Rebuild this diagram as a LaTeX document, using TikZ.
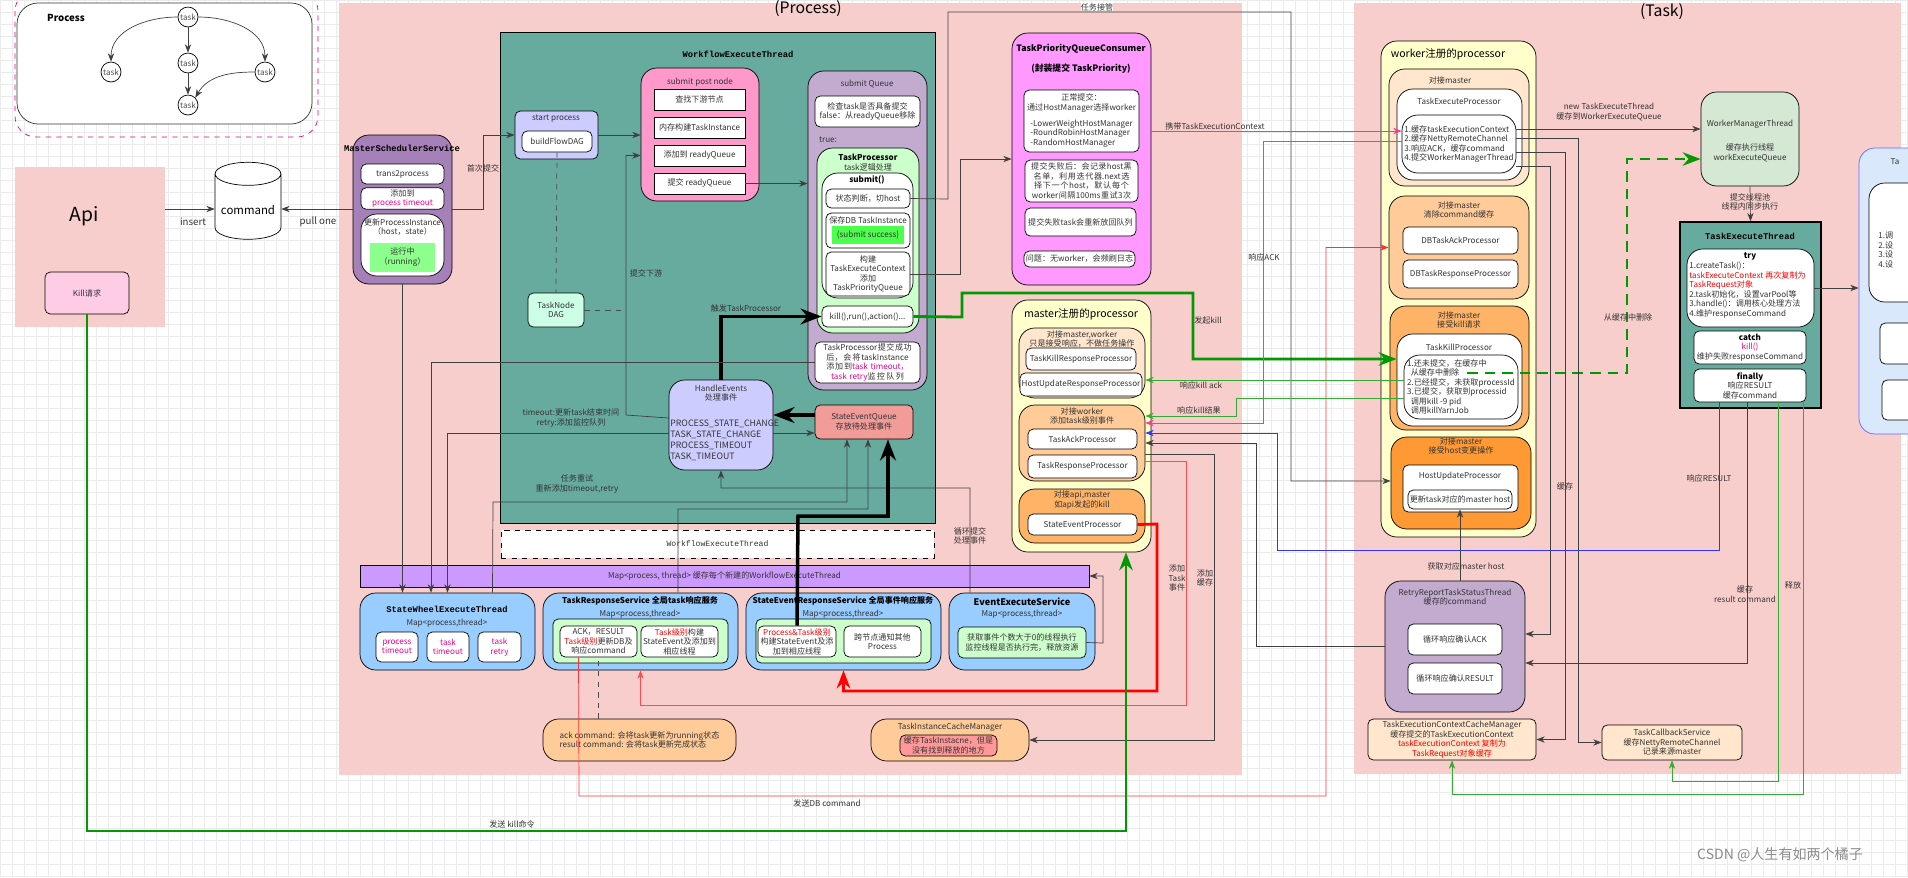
\documentclass[tikz,border=0pt]{standalone}
\usepackage{fontspec}
\setmainfont{Noto Sans CJK SC}
\newfontfamily\mono{Liberation Mono}
\XeTeXlinebreaklocale "zh"
\XeTeXlinebreakskip=0pt plus 1pt
\usetikzlibrary{shapes.geometric,arrows.meta}

\definecolor{bgpink}{HTML}{F8CECC}
\definecolor{wteal}{HTML}{67AB9F}
\definecolor{lav}{HTML}{CCCCFF}
\definecolor{rose}{HTML}{FF99CC}
\definecolor{lilac}{HTML}{C3ABD0}
\definecolor{mint}{HTML}{CCFFCC}
\definecolor{aqua}{HTML}{CCFFE6}
\definecolor{salmon}{HTML}{F19C99}
\definecolor{mapviolet}{HTML}{CC99FF}
\definecolor{sky}{HTML}{99CCFF}
\definecolor{peach}{HTML}{FFCC99}
\definecolor{cream}{HTML}{FFE6CC}
\definecolor{orng}{HTML}{FFB366}
\definecolor{dorng}{HTML}{FF9933}
\definecolor{lemon}{HTML}{FFFFCC}
\definecolor{magbox}{HTML}{FF99FF}
\definecolor{sage}{HTML}{D5E8D4}
\definecolor{msscol}{HTML}{A680B8}
\definecolor{killbg}{HTML}{FFCCE6}
\definecolor{hotpink}{HTML}{FF3399}
\definecolor{lgreen}{HTML}{33AA33}
\definecolor{kgreen}{HTML}{009900}
\definecolor{ice}{HTML}{DAE8FC}

\newcommand{\fs}{\fontsize{4.6}{5.4}\selectfont}
\newcommand{\rtxt}[1]{\textcolor{red}{#1}}
\newcommand{\mtxt}[1]{\textcolor{magenta}{#1}}
% box from corners: style, name, x1, y1, x2, y2, text
\newcommand{\bx}[7]{\node[box,#1,minimum width={(#5-#3)*0.02cm},minimum height={(#6-#4)*0.02cm}] (#2) at ({(#3+#5)/2},{(#4+#6)/2}) {#7};}

\tikzset{
  box/.style={draw, rectangle, fill=white, inner sep=1pt, align=center, font=\fs, text=black!80},
  rnd/.style={rounded corners=3pt},
  rbig/.style={rounded corners=9pt},
  lbl/.style={font=\fs, text=black!80, align=center, inner sep=0pt},
  ttl/.style={font=\mono\bfseries\fontsize{5}{6}\selectfont, inner sep=0pt},
  wire/.style={->, >=Stealth, black!75, line width=0.4pt},
}

\begin{document}
\begin{tikzpicture}[x=0.02cm, y=-0.02cm]
  \clip (0,0) rectangle (1908,877);
  \fill[white] (0,0) rectangle (1908,877);
  \draw[black!8, step=0.24cm] (0,-877) grid (1908,877);

  % areas
  \fill[bgpink] (339,3) rectangle (1242,775);
  \fill[bgpink] (1354,3) rectangle (1901,774);
  \node[font=\fontsize{9}{10}\selectfont] (procT) at (808,9) {(Process)};
  \node[font=\fontsize{9}{10}\selectfont] (taskT) at (1662,12) {(Task)};

  % process DAG
  \draw[magenta, dashed, rounded corners=12pt] (15,-10) rectangle (318,137);
  \draw[black!80, fill=white, rounded corners=12pt] (17,3) rectangle (312,124);
  \node[font=\bfseries\fontsize{5.5}{6}\selectfont] (dagT) at (66,18) {Process};
  \foreach \n/\x/\y in {t1/188/17, t2/188/63, t3/111/72, t4/265/72, t5/188/105}
    \node[draw, circle, fill=white, minimum size=0.4cm, inner sep=0pt, font=\fs, text=black!70] (\n) at (\x,\y) {task};
  \draw[wire] (t1) -- (t2);
  \draw[wire] (t2) -- (t5);
  \draw[wire] (t1.west) to[out=180, in=90] (t3.north);
  \draw[wire] (t1.east) to[out=0, in=90] (t4.north);
  \draw[wire] (t4.west) to[out=180, in=60] (t5.north east);

  % api side
  \bx{draw=none, fill=bgpink}{apiB}{15}{167}{165}{327}{}
  \node[font=\fontsize{11}{12}\selectfont] (api) at (84,216) {Api};
  \bx{rnd, fill=killbg}{kill}{45}{272}{129}{314}{Kill请求}
  \node[draw, cylinder, shape border rotate=90, aspect=0.35, fill=white, minimum width=1.12cm, minimum height=1.54cm, font=\fontsize{6.5}{7}\selectfont] (cmd) at (248,210) {command};
  \node[lbl, font=\fontsize{5.5}{6}\selectfont] (insL) at (193,222) {insert};
  \node[lbl, font=\fontsize{5.5}{6}\selectfont] (pullL) at (318,222) {pull one};

  % MasterSchedulerService
  \bx{rbig, fill=msscol}{ms}{353}{135}{452}{284}{}
  \node[ttl] (msT) at (402,148) {MasterSchedulerService};
  \bx{rnd}{m1}{361}{164}{444}{184}{trans2process}
  \bx{rnd}{m2}{361}{189}{444}{208}{添加到\\\mtxt{process timeout}}
  \bx{rbig}{m3}{361}{214}{444}{276}{更新ProcessInstance\\（host，state）\\[3pt]\colorbox{green!45}{\parbox{1.1cm}{\centering 运行中\\（running）}}}

  % WorkflowExecuteThread
  \bx{fill=wteal}{wet}{500}{32}{935}{523}{}
  \node[ttl] (wetT) at (738,54) {WorkflowExecuteThread};
  \bx{rnd, fill=lav}{sp}{515}{111}{598}{159}{}
  \node[lbl] (spT) at (556,119) {start process};
  \bx{rnd}{bfd}{522}{131}{592}{152}{buildFlowDAG}
  \bx{rbig, fill=rose}{spn}{641}{68}{759}{201}{}
  \node[lbl] (spnT) at (700,82) {submit post node};
  \bx{}{a1}{654}{89}{745}{110}{查找下游节点}
  \bx{}{a2}{654}{117}{745}{138}{内存构建TaskInstance}
  \bx{}{a3}{654}{145}{745}{166}{添加到 readyQueue}
  \bx{}{a4}{654}{173}{745}{194}{提交 readyQueue}
  \bx{rbig, fill=lilac}{sq}{808}{71}{927}{390}{}
  \node[lbl] (sqT) at (867,84) {submit Queue};
  \bx{rnd}{q1}{815}{96}{920}{127}{检查task是否具备提交\\false：从readyQueue移除}
  \node[lbl] (trueL) at (828,140) {true:};
  \bx{rbig, fill=mint}{tp}{817}{148}{919}{333}{}
  \node[lbl, text=black, font=\bfseries\fs] (tpT) at (868,157) {TaskProcessor};
  \node[lbl] (tpS) at (868,167) {task逻辑处理};
  \bx{rbig}{sub}{822}{173}{913}{298}{}
  \node[lbl, text=black, font=\bfseries\fs] (subT) at (867,180) {submit()};
  \bx{rnd}{s1}{826}{189}{910}{208}{状态判断，切host}
  \bx{rnd}{s2}{826}{213}{910}{248}{保存DB TaskInstance\\\colorbox{green!70}{(submit success)}}
  \bx{rnd}{s3}{826}{252}{910}{296}{构建\\TaskExecuteContext\\添加\\TaskPriorityQueue}
  \bx{rnd}{kl}{822}{306}{913}{327}{kill(),run(),action()...}
  \bx{rnd, text width=1.95cm}{tps}{815}{342}{920}{383}{TaskProcessor提交成功后，会将taskInstance添加到\mtxt{task timeout，task retry}监控队列}
  \bx{rnd, fill=aqua}{dag}{528}{293}{584}{327}{TaskNode\\DAG}
  \bx{rbig, fill=lav}{he}{669}{380}{773}{470}{}
  \node[lbl] (heT) at (721,393) {HandleEvents\\处理事件};
  \node[lbl, anchor=west, align=left, font=\fontsize{5}{6.2}\selectfont] (heL) at (670,440) {PROCESS\_STATE\_CHANGE\\TASK\_STATE\_CHANGE\\PROCESS\_TIMEOUT\\TASK\_TIMEOUT};
  \bx{rnd, fill=salmon}{seq}{815}{405}{913}{439}{StateEventQueue\\存放待处理事件}
  \bx{dashed}{wetd}{501}{530}{934}{558}{\mono WorkflowExecuteThread}
  \bx{fill=mapviolet}{map}{360}{565}{1089}{587}{Map<process, thread> 缓存每个新建的WorkflowExecuteThread}

  % services
  \bx{rbig, fill=sky}{swt}{360}{593}{535}{670}{}
  \node[ttl] (swtT) at (447,609) {StateWheelExecuteThread};
  \node[lbl] (swtM) at (447,623) {Map<process,thread>};
  \bx{rnd}{w1}{376}{632}{418}{662}{\mtxt{process}\\\mtxt{timeout}}
  \bx{rnd}{w2}{427}{632}{469}{662}{\mtxt{task}\\\mtxt{timeout}}
  \bx{rnd}{w3}{478}{632}{521}{662}{\mtxt{task}\\\mtxt{retry}}
  \bx{rbig, fill=sky}{trs}{543}{593}{738}{670}{}
  \node[lbl, text=black, font=\bfseries\fs] (trsT) at (640,601) {TaskResponseService 全局task响应服务};
  \node[lbl] (trsM) at (640,614) {Map<process,thread>};
  \bx{rnd, fill=mint}{trsi}{553}{619}{728}{663}{}
  \bx{rnd}{r1}{560}{626}{637}{657}{ACK，RESULT\\\rtxt{Task级别}更新DB及\\响应command}
  \bx{rnd}{r2}{641}{626}{718}{657}{\rtxt{Task级别}构建\\StateEvent及添加到\\相应线程}
  \bx{rbig, fill=sky}{sers}{746}{593}{941}{670}{}
  \node[lbl, text=black, font=\bfseries\fs] (sersT) at (843,601) {StateEventResponseService 全局事件响应服务};
  \node[lbl] (sersM) at (843,614) {Map<process,thread>};
  \bx{rnd, fill=mint}{sersi}{756}{619}{931}{663}{}
  \bx{rnd}{e1}{758}{626}{836}{657}{\rtxt{Process\&Task级别}\\构建StateEvent及添\\加到相应线程}
  \bx{rnd}{e2}{844}{626}{921}{657}{跨节点通知其他\\Process}
  \bx{rbig, fill=sky}{ees}{949}{593}{1095}{670}{}
  \node[lbl, text=black, font=\bfseries\fontsize{5.2}{6}\selectfont] (eesT) at (1022,602) {EventExecuteService};
  \node[lbl] (eesM) at (1022,614) {Map<process,thread>};
  \bx{rnd, fill=mint}{eesi}{958}{627}{1086}{658}{获取事件个数大于0的线程执行\\监控线程是否执行完，释放资源}
  \bx{rbig, fill=peach, align=left}{ackc}{543}{719}{736}{761}{ack command: 会将task更新为running状态\\result command: 会将task更新完成状态}
  \bx{rbig, fill=peach}{ticm}{871}{719}{1029}{761}{}
  \node[lbl] (ticmT) at (950,727) {TaskInstanceCacheManager};
  \bx{rnd, fill=red!40}{ticmi}{900}{735}{997}{756}{缓存TaskInstacne，但是\\没有找到释放的地方}

  % TaskPriorityQueueConsumer
  \bx{rbig, fill=magbox}{tpqc}{1012}{33}{1151}{285}{}
  \node[lbl, text=black, font=\bfseries\fontsize{5}{6}\selectfont] (tpqcT) at (1081,49) {TaskPriorityQueueConsumer};
  \node[lbl, text=black, font=\bfseries\fontsize{5}{6}\selectfont] (tpqcS) at (1081,69) {(封装提交 TaskPriority)};
  \bx{rnd}{c1}{1024}{90}{1139}{152}{正常提交：\\通过HostManager选择worker\\[3pt]\begin{tabular}{@{}l@{}}-LowerWeightHostManager\\-RoundRobinHostManager\\-RandomHostManager\end{tabular}}
  \bx{rnd, text width=2.15cm}{c2}{1025}{160}{1138}{202}{提交失败后：会记录host黑名单，利用迭代器.next选择下一个host，默认每个worker间隔100ms重试3次}
  \bx{rnd}{c3}{1025}{208}{1136}{236}{提交失败task会重新放回队列}
  \bx{rnd}{c4}{1024}{251}{1135}{267}{问题：无worker，会频刷日志}

  % master processors
  \bx{rbig, fill=lemon}{mrp}{1012}{300}{1151}{552}{}
  \node[lbl, text=black, font=\fontsize{6}{7}\selectfont] (mrpT) at (1081,314) {master注册的processor};
  \bx{rbig, fill=cream}{g1}{1019}{328}{1145}{398}{}
  \node[lbl] (g1T) at (1082,339) {对接master,worker\\只是接受响应，不做任务操作};
  \bx{rnd}{tkr}{1026}{348}{1136}{370}{TaskKillResponseProcessor}
  \bx{rnd}{hur}{1026}{373}{1136}{396}{HostUpdateResponseProcessor}
  \bx{rbig, fill=peach}{g2}{1019}{405}{1145}{481}{}
  \node[lbl] (g2T) at (1082,416) {对接worker\\添加task级别事件};
  \bx{rnd}{tak}{1028}{429}{1137}{449}{TaskAckProcessor}
  \bx{rnd}{trp}{1028}{455}{1137}{478}{TaskResponseProcessor}
  \bx{rbig, fill=orng}{g3}{1019}{489}{1145}{543}{}
  \node[lbl] (g3T) at (1082,500) {对接api,master\\如api发起的kill};
  \bx{rnd}{sep}{1028}{514}{1137}{535}{StateEventProcessor}

  % worker processors
  \bx{rbig, fill=lemon}{wrp}{1381}{41}{1536}{537}{}
  \node[lbl, text=black, font=\fontsize{6}{7}\selectfont] (wrpT) at (1448,54) {worker注册的processor};
  \bx{rbig, fill=cream}{wg1}{1389}{69}{1529}{186}{}
  \node[lbl] (wg1T) at (1450,80) {对接master};
  \bx{rbig}{tep}{1397}{89}{1522}{180}{}
  \node[lbl] (tepT) at (1459,101) {TaskExecuteProcessor};
  \bx{rbig, align=left}{tepi}{1402}{115}{1516}{173}{1.缓存taskExecutionContext\\2.缓存NettyRemoteChannel\\3.响应ACK，缓存command\\4.提交WorkerManagerThread}
  \bx{rbig, fill=peach}{wg2}{1389}{196}{1529}{299}{}
  \node[lbl] (wg2T) at (1459,210) {对接master\\清除command缓存};
  \bx{rnd}{dba}{1403}{227}{1518}{254}{DBTaskAckProcessor}
  \bx{rnd}{dbr}{1403}{260}{1518}{288}{DBTaskResponseProcessor}
  \bx{rbig, fill=orng}{wg3}{1390}{306}{1529}{430}{}
  \node[lbl] (wg3T) at (1459,320) {对接master\\接受kill请求};
  \bx{rbig}{tkp}{1397}{334}{1522}{426}{}
  \node[lbl] (tkpT) at (1459,347) {TaskKillProcessor};
  \bx{rbig, align=left}{tkpi}{1404}{355}{1518}{419}{1.还未提交，在缓存中\\\ \ 从缓存中删除\\2.已经提交，未获取processId\\3.已提交，获取到processid\\\ \ 调用kill -9 pid\\\ \ 调用killYarnJob}
  \bx{rbig, fill=dorng}{wg4}{1391}{437}{1531}{529}{}
  \node[lbl] (wg4T) at (1461,446) {对接master\\接受host变更操作};
  \bx{rnd}{hup}{1403}{465}{1518}{512}{}
  \node[lbl] (hupT) at (1460,476) {HostUpdateProcessor};
  \bx{rnd}{hupi}{1409}{490}{1511}{509}{更新task对应的master host}

  % task side
  \bx{rbig, fill=sage}{wmt}{1701}{92}{1799}{186}{}
  \node[lbl] (wmtT) at (1750,124) {WorkerManagerThread};
  \node[lbl] (wmtS) at (1750,153) {缓存执行线程\\workExecuteQueue};
  \bx{fill=wteal, line width=0.8pt}{tet}{1680}{222}{1821}{408}{}
  \node[ttl] (tetT) at (1750,236) {TaskExecuteThread};
  \bx{rbig}{try}{1687}{249}{1814}{327}{}
  \node[lbl, text=black, font=\bfseries\fs] (tryT) at (1750,256) {try};
  \node[lbl, anchor=north west, align=left] (tryL) at (1689,262) {1.createTask()：\\\rtxt{taskExecuteContext 再次复制为}\\\rtxt{TaskRequest对象}\\2.task初始化，设置varPool等\\3.handle()：调用核心处理方法\\4.维护responseCommand};
  \bx{rnd}{cat}{1694}{331}{1806}{364}{{\bfseries\textcolor{black}{catch}}\\\mtxt{kill()}\\维护失败responseCommand}
  \bx{rnd}{fin}{1694}{369}{1806}{402}{{\bfseries\textcolor{black}{finally}}\\响应RESULT\\缓存command}
  \bx{rbig, fill=ice, draw=blue!60}{rb}{1859}{148}{1960}{434}{}
  \bx{rbig}{rbi}{1869}{183}{1960}{302}{}
  \node[lbl] (rbT) at (1895,162) {Ta};
  \node[lbl, anchor=west, align=left] (rbL) at (1878,250) {1.调\\2.设\\3.设\\4.设};
  \bx{rnd}{rb1}{1880}{323}{1960}{364}{}
  \bx{rnd}{rb2}{1882}{380}{1960}{420}{}
  \bx{rbig, fill=lilac}{rrt}{1385}{581}{1525}{712}{}
  \node[lbl] (rrtT) at (1455,597) {RetryReportTaskStatusThread\\缓存的command};
  \bx{rnd}{rr1}{1408}{624}{1502}{655}{循环响应确认ACK}
  \bx{rnd}{rr2}{1408}{663}{1502}{694}{循环响应确认RESULT}
  \bx{rnd, fill=cream}{tecm}{1368}{719}{1536}{760}{TaskExecutionContextCacheManager\\缓存提交的TaskExecutionContext\\\rtxt{taskExecutionContext 复制为}\\\rtxt{TaskRequest对象缓存}}
  \bx{rnd, fill=cream}{tcs}{1602}{725}{1742}{760}{TaskCallbackService\\缓存NettyRemoteChannel\\记录来源master}

  % connectors: left part
  \draw[wire] (apiB.east |- 0,209) -- (cmd.west |- 0,209);
  \draw[wire] (ms.west |- 0,209) -- (cmd.east |- 0,209);
  \draw[wire] (ms.east |- 0,209) -- (483,209) |- (sp.west);
  \node[lbl] (firstL) at (483,168) {首次提交};
  \draw[wire] (sp.east) -- (sp.east -| spn.west);
  \draw[wire] (a4.east) -- (a4.east -| sq.west);
  \draw[black!70, dashed] (bfd.south) -- (dag.north);
  \draw[black!70, dashed] (dag.east) -- (626,310);
  \draw[wire] ([yshift=0.14cm]he.west) -- (626,415) |- (a3.west -| spn.west);
  \node[lbl] (downL) at (646,273) {提交下游};
  \draw[->, >=Stealth, line width=2pt] (he.north) |- (kl.west);
  \node[lbl] (trigL) at (746,308) {触发TaskProcessor};
  \draw[->, >=Stealth, line width=2pt] ([yshift=0.14cm]seq.west) -- ([yshift=0.14cm]seq.west -| he.east);
  \draw[wire] ([yshift=-0.16cm]he.east) -- ([yshift=-0.16cm]he.east -| seq.west);
  \draw[wire] ([yshift=-0.16cm]he.west) -| (swt.north);
  \node[lbl] (toL) at (571,418) {timeout:更新task结束时间\\retry:添加监控队列};
  \draw[wire] (tps.west) -| ([xshift=-0.33cm]swt.north);
  \draw[wire] (ms.south) -- (ms.south |- swt.north);
  \draw[wire] ([xshift=0.9cm]swt.north) -- (493,502) -| ([xshift=-0.34cm]seq.south);
  \node[lbl] (retryL) at (577,484) {任务重试\\重新添加timeout,retry};
  \draw[wire] ([xshift=-1.04cm]ees.north) -- (970,488) -| (he.south);
  \node[lbl] (loopL) at (970,536) {循环提交\\处理事件};
  \draw[wire] ([xshift=0.75cm]trs.north) -- (678,509) -| ([xshift=0.08cm]seq.south);
  \draw[->, >=Stealth, line width=2pt] (e1.north) -- (798,516) -| ([xshift=0.48cm]seq.south);
  \draw[wire] (eesi.east) -- (1103,643) |- (map.east);
  \draw[black!70, dashed] (r1.south |- ackc.north) -- (r1.south);

  % connectors: master side
  \draw[->, >=Stealth, red!80] ([xshift=-0.4cm]r1.south) -- (579,796) -- (1326,796) |- (wg2.west);
  \node[lbl] (dbL) at (827,803) {发送DB command};
  \draw[->, >=Stealth, red!70] (g2.east |- 0,461) -- (1186,461) -- (1186,705) -| (trs.south);
  \node[lbl] (addtL) at (1177,578) {添加\\Task\\事件};
  \draw[->, >=Stealth, red, line width=1.6pt] (sep.east) -- (1157,524) -- (1157,691) -| (sers.south);
  \draw[wire] (g2.east |- 0,454) -- (1214,454) |- (ticm.east);
  \node[lbl] (addcL) at (1205,578) {添加\\缓存};
  \draw[->, >=Stealth, kgreen, line width=1.6pt] (kill.south) |- (1126,831) -- (mrp.south -| 1126,0);
  \node[lbl] (sendL) at (512,824) {发送 kill命令};
  \draw[->, >=Stealth, kgreen, line width=1.6pt] (kl.east) -- (962,317) -- (962,293) -- (1193,293) |- (tkp.west |- 0,359);
  \node[lbl] (killL) at (1208,320) {发起kill};
  \draw[wire] (s1.east) -- (948,199) -- (948,12) -- (1291,12) |- (wg4.west |- 0,481);
  \node[lbl, fill=white] (takeL) at (1097,7) {任务接管};
  \draw[wire] (s3.east) -- (960,274) |- (tpqc.west |- 0,159);
  \draw[->, >=Stealth, hotpink] (tpqc.east |- 0,131) -- (tepi.west |- 0,131);
  \node[lbl] (carryL) at (1215,126) {携带TaskExecutionContext};
  \draw[->, >=Stealth, hotpink] (tepi.west |- 0,141) -- (1263,141) |- (g2.east |- 0,423);
  \node[lbl] (ackL) at (1264,257) {响应ACK};
  \draw[->, >=Stealth, lgreen] (tkpi.west |- 0,380) -- (g1.east |- 0,380);
  \node[lbl] (kackL) at (1201,385) {响应kill ack};
  \draw[->, >=Stealth, lgreen] (tkpi.west |- 0,398) -- (1236,398) |- (g2.east |- 0,416);
  \node[lbl] (kresL) at (1199,410) {响应kill结果};
  \draw[->, >=Stealth, blue!80] (fin.south -| 1719,0) -- (1719,550) -- (1277,550) |- (g2.east |- 0,433);
  \node[lbl] (resL) at (1709,478) {响应RESULT};
  \draw[wire] (rrt.west |- 0,646) -- (1256,646) |- (g2.east |- 0,443);

  % connectors: worker side
  \draw[->, >=Stealth, kgreen, line width=1.6pt, dash pattern=on 6pt off 4pt] (1467,373) -- (1627,373) |- (wmt.west |- 0,159);
  \node[lbl] (delL) at (1628,317) {从缓存中删除};
  \draw[wire] (tepi.east |- 0,129) -- (wmt.west |- 0,129);
  \node[lbl] (newL) at (1609,112) {new TaskExecuteThread\\缓存到WorkerExecuteQueue};
  \draw[wire] (wmt.south) -- (tet.north);
  \node[lbl] (poolL) at (1750,202) {提交线程池\\线程内同步执行};
  \draw[wire] (try.east) -- (try.east -| rb.west);
  \draw[wire] (tepi.east |- 0,138) -- (1578,138) |- (tcs.west);
  \draw[wire] (tepi.east |- 0,152) -- (1565,152) |- (tecm.east);
  \draw[wire] (tepi.east |- 0,166) -- (1550,166) |- (rrt.east |- 0,634);
  \node[lbl] (cacheL) at (1565,486) {缓存};
  \draw[wire] (fin.south -| 1747,0) |- (rrt.east |- 0,663);
  \node[lbl] (rcL) at (1745,594) {缓存\\result command};
  \draw[->, >=Stealth, lgreen] (fin.south -| 1778,0) -- (1778,781) -| (tcs.south);
  \node[lbl] (relL) at (1793,585) {释放};
  \draw[->, >=Stealth, lgreen] (fin.south -| 1803,0) -- (1803,794) -| (tecm.south);
  \draw[wire] (hupi.south |- rrt.north) -- (hupi.south);
  \node[lbl] (hostL) at (1466,566) {获取对应master host};

  \node[text=black!45, font=\fontsize{8}{9}\selectfont] (mark) at (1780,855) {CSDN @人生有如两个橘子};
\end{tikzpicture}
\end{document}
